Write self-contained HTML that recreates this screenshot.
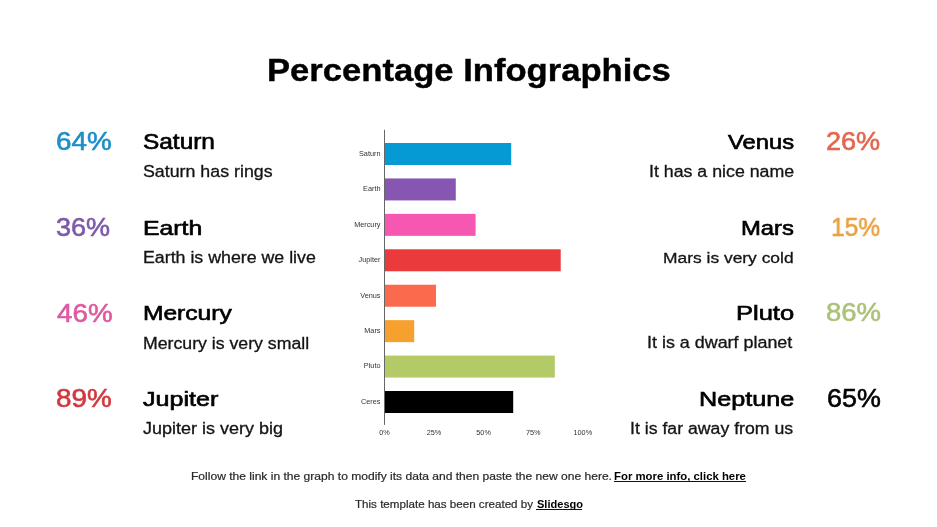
<!DOCTYPE html>
<html><head><meta charset="utf-8"><style>
html,body{margin:0;padding:0;background:#fff;}
body{width:937px;height:527px;position:relative;overflow:hidden;font-family:"Liberation Sans",sans-serif;}
.t{position:absolute;white-space:pre;transform-origin:0 0;will-change:transform;}
svg{position:absolute;left:0;top:0;will-change:transform;}
svg text{font-family:"Liberation Sans",sans-serif;font-size:7.3px;fill:#333;}
.u{position:absolute;height:1px;background:#111;}
</style></head><body>
<svg width="937" height="527" viewBox="0 0 937 527">
<rect x="384.5" y="143.00" width="126.72" height="22" fill="#069ad5"/>
<text x="380.5" y="155.80" text-anchor="end">Saturn</text>
<rect x="384.5" y="178.43" width="71.28" height="22" fill="#8756b3"/>
<text x="380.5" y="191.23" text-anchor="end">Earth</text>
<rect x="384.5" y="213.86" width="91.08" height="22" fill="#f658b1"/>
<text x="380.5" y="226.66" text-anchor="end">Mercury</text>
<rect x="384.5" y="249.29" width="176.22" height="22" fill="#ea3a3b"/>
<text x="380.5" y="262.09" text-anchor="end">Jupiter</text>
<rect x="384.5" y="284.72" width="51.48" height="22" fill="#fb6a4d"/>
<text x="380.5" y="297.52" text-anchor="end">Venus</text>
<rect x="384.5" y="320.15" width="29.70" height="22" fill="#f6a12e"/>
<text x="380.5" y="332.95" text-anchor="end">Mars</text>
<rect x="384.5" y="355.58" width="170.28" height="22" fill="#b3ca67"/>
<text x="380.5" y="368.38" text-anchor="end">Pluto</text>
<rect x="384.5" y="391.01" width="128.70" height="22" fill="#000000"/>
<text x="380.5" y="403.81" text-anchor="end">Ceres</text>
<line x1="384.5" y1="129.8" x2="384.5" y2="424.9" stroke="#666" stroke-width="1"/>
<text x="384.4" y="435.2" text-anchor="middle">0%</text>
<text x="434.0" y="435.2" text-anchor="middle">25%</text>
<text x="483.6" y="435.2" text-anchor="middle">50%</text>
<text x="533.2" y="435.2" text-anchor="middle">75%</text>
<text x="582.8" y="435.2" text-anchor="middle">100%</text>
</svg>
<div class="t" style="left:266.78px;top:54.94px;font-size:31.59px;line-height:31.59px;font-weight:700;color:#000;transform:scaleX(1.0958);-webkit-text-stroke:0.4px #000;">Percentage Infographics</div>
<div class="t" style="left:56.41px;top:128.46px;font-size:26.52px;line-height:26.52px;font-weight:400;color:#1d8ec6;transform:scaleX(1.0487);-webkit-text-stroke:0.6px #1d8ec6;">64%</div>
<div class="t" style="left:55.82px;top:214.38px;font-size:26.38px;line-height:26.38px;font-weight:400;color:#7c5aa9;transform:scaleX(1.0234);-webkit-text-stroke:0.6px #7c5aa9;">36%</div>
<div class="t" style="left:56.54px;top:300.16px;font-size:26.52px;line-height:26.52px;font-weight:400;color:#df599f;transform:scaleX(1.0480);-webkit-text-stroke:0.6px #df599f;">46%</div>
<div class="t" style="left:56.38px;top:385.95px;font-size:25.94px;line-height:25.94px;font-weight:400;color:#d1383e;transform:scaleX(1.0745);-webkit-text-stroke:0.6px #d1383e;">89%</div>
<div class="t" style="left:826.45px;top:128.46px;font-size:26.52px;line-height:26.52px;font-weight:400;color:#e3664f;transform:scaleX(1.0212);-webkit-text-stroke:0.6px #e3664f;">26%</div>
<div class="t" style="left:831.44px;top:214.26px;font-size:26.52px;line-height:26.52px;font-weight:400;color:#e9a140;transform:scaleX(0.9257);-webkit-text-stroke:0.6px #e9a140;">15%</div>
<div class="t" style="left:825.60px;top:298.96px;font-size:26.52px;line-height:26.52px;font-weight:400;color:#abc27a;transform:scaleX(1.0374);-webkit-text-stroke:0.6px #abc27a;">86%</div>
<div class="t" style="left:826.86px;top:384.76px;font-size:26.52px;line-height:26.52px;font-weight:400;color:#000;transform:scaleX(1.0133);-webkit-text-stroke:0.6px #000;">65%</div>
<div class="t" style="left:143.08px;top:131.67px;font-size:21.45px;line-height:21.45px;font-weight:400;color:#000;transform:scaleX(1.1384);-webkit-text-stroke:0.65px #000;">Saturn</div>
<div class="t" style="left:143.12px;top:217.96px;font-size:20.87px;line-height:20.87px;font-weight:400;color:#000;transform:scaleX(1.1862);-webkit-text-stroke:0.65px #000;">Earth</div>
<div class="t" style="left:142.54px;top:302.68px;font-size:20.72px;line-height:20.72px;font-weight:400;color:#000;transform:scaleX(1.1851);-webkit-text-stroke:0.65px #000;">Mercury</div>
<div class="t" style="left:143.10px;top:389.26px;font-size:20.87px;line-height:20.87px;font-weight:400;color:#000;transform:scaleX(1.2044);-webkit-text-stroke:0.65px #000;">Jupiter</div>
<div class="t" style="left:727.66px;top:131.04px;font-size:21.01px;line-height:21.01px;font-weight:400;color:#000;transform:scaleX(1.1313);-webkit-text-stroke:0.65px #000;">Venus</div>
<div class="t" style="left:740.59px;top:216.94px;font-size:21.01px;line-height:21.01px;font-weight:400;color:#000;transform:scaleX(1.1344);-webkit-text-stroke:0.65px #000;">Mars</div>
<div class="t" style="left:735.66px;top:302.68px;font-size:20.72px;line-height:20.72px;font-weight:400;color:#000;transform:scaleX(1.2309);-webkit-text-stroke:0.65px #000;">Pluto</div>
<div class="t" style="left:698.68px;top:389.28px;font-size:20.72px;line-height:20.72px;font-weight:400;color:#000;transform:scaleX(1.2155);-webkit-text-stroke:0.65px #000;">Neptune</div>
<div class="t" style="left:143.11px;top:162.53px;font-size:16.09px;line-height:16.09px;font-weight:400;color:#141414;transform:scaleX(1.1068);-webkit-text-stroke:0.3px #141414;">Saturn has rings</div>
<div class="t" style="left:143.38px;top:250.17px;font-size:15.80px;line-height:15.80px;font-weight:400;color:#141414;transform:scaleX(1.1249);-webkit-text-stroke:0.3px #141414;">Earth is where we live</div>
<div class="t" style="left:143.38px;top:336.17px;font-size:15.80px;line-height:15.80px;font-weight:400;color:#141414;transform:scaleX(1.1201);-webkit-text-stroke:0.3px #141414;">Mercury is very small</div>
<div class="t" style="left:143.14px;top:421.47px;font-size:15.80px;line-height:15.80px;font-weight:400;color:#141414;transform:scaleX(1.1386);-webkit-text-stroke:0.3px #141414;">Jupiter is very big</div>
<div class="t" style="left:648.60px;top:163.57px;font-size:15.80px;line-height:15.80px;font-weight:400;color:#141414;transform:scaleX(1.1243);-webkit-text-stroke:0.3px #141414;">It has a nice name</div>
<div class="t" style="left:663.11px;top:250.42px;font-size:15.51px;line-height:15.51px;font-weight:400;color:#141414;transform:scaleX(1.1232);-webkit-text-stroke:0.3px #141414;">Mars is very cold</div>
<div class="t" style="left:647.39px;top:335.10px;font-size:15.65px;line-height:15.65px;font-weight:400;color:#141414;transform:scaleX(1.1447);-webkit-text-stroke:0.3px #141414;">It is a dwarf planet</div>
<div class="t" style="left:630.41px;top:421.47px;font-size:15.80px;line-height:15.80px;font-weight:400;color:#141414;transform:scaleX(1.1193);-webkit-text-stroke:0.3px #141414;">It is far away from us</div>
<div class="t" style="left:190.53px;top:472.13px;font-size:10.43px;line-height:10.43px;font-weight:400;color:#2a2a2a;transform:scaleX(1.1570);-webkit-text-stroke:0.2px #2a2a2a;">Follow the link in the graph to modify its data and then paste the new one here.</div>
<div class="t" style="left:614.20px;top:472.13px;font-size:10.43px;line-height:10.43px;font-weight:700;color:#000;transform:scaleX(1.0899);">For more info, click here</div>
<div class="t" style="left:355.07px;top:499.21px;font-size:10.58px;line-height:10.58px;font-weight:400;color:#2a2a2a;transform:scaleX(1.0970);-webkit-text-stroke:0.2px #2a2a2a;">This template has been created by</div>
<div class="t" style="left:536.67px;top:499.21px;font-size:10.58px;line-height:10.58px;font-weight:700;color:#000;transform:scaleX(1.0443);">Slidesgo</div>
<div class="u" style="left:614.2px;top:481px;width:131.8px"></div>
<div class="u" style="left:536.2px;top:509px;width:46.3px"></div>
</body></html>
